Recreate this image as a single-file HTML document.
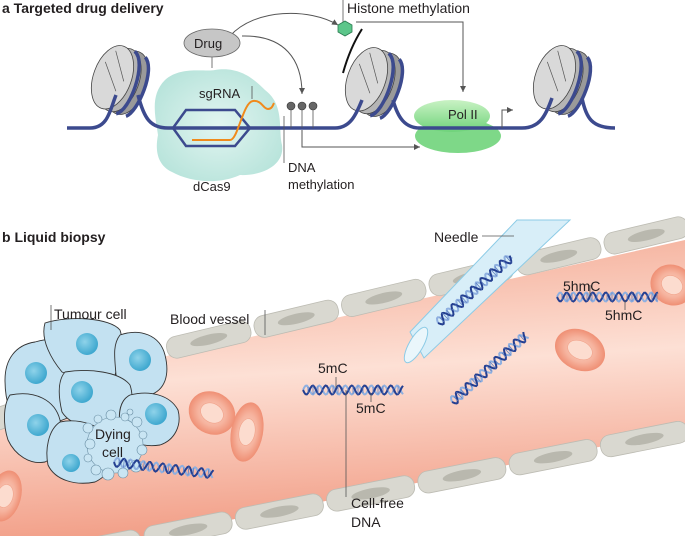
<!DOCTYPE html>
<html><head><meta charset="utf-8"><style>
html,body{margin:0;background:#fff;width:685px;height:536px;overflow:hidden}
svg{display:block;overflow:hidden}
text{font-family:"Liberation Sans",sans-serif;fill:#231f20}
</style></head><body>
<svg id="s" width="685" height="536" viewBox="0 0 685 536" xmlns="http://www.w3.org/2000/svg">
<defs>
<clipPath id="cl"><rect x="0" y="0" width="685" height="536"/></clipPath>
<radialGradient id="cas" cx="50%" cy="50%" r="60%"><stop offset="0" stop-color="#e2f5f1"/><stop offset="1" stop-color="#b6e3da"/></radialGradient>
<linearGradient id="pol" x1="0" y1="0" x2="0" y2="1"><stop offset="0" stop-color="#c9f2c4"/><stop offset="1" stop-color="#6fd37a"/></linearGradient>
<linearGradient id="ves" x1="0" y1="0" x2="0.15" y2="1"><stop offset="0" stop-color="#f3a68f"/><stop offset="0.5" stop-color="#fde0d5"/><stop offset="1" stop-color="#f2a089"/></linearGradient>
<radialGradient id="nuc" cx="40%" cy="40%" r="60%"><stop offset="0" stop-color="#8fd3ea"/><stop offset="1" stop-color="#3fa8cf"/></radialGradient>
<radialGradient id="rbc" cx="50%" cy="50%" r="50%"><stop offset="0" stop-color="#fbd3c4"/><stop offset="0.6" stop-color="#f6b39e"/><stop offset="1" stop-color="#ef8f74"/></radialGradient>
<marker id="ar" markerWidth="8" markerHeight="8" refX="6" refY="3" orient="auto"><path d="M0,0 L6,3 L0,6 z" fill="#555"/></marker>
</defs>
<g clip-path="url(#cl)">
<text x="2" y="13" font-size="14" font-weight="bold">a  Targeted drug delivery</text>

<path d="M165,80 C180,66 205,72 215,70 C240,66 255,80 265,90 C285,105 278,130 282,145 C285,165 262,176 240,175 C218,185 190,182 172,172 C157,165 155,150 158,135 C155,115 150,95 165,80 Z" fill="url(#cas)"/>

<g id="nucs"></g>

<path d="M230,36 C255,8 310,8 338,25" fill="none" stroke="#555" stroke-width="1" marker-end="url(#ar)"/>
<path d="M242,36 C285,35 302,60 302,94" fill="none" stroke="#555" stroke-width="1" marker-end="url(#ar)"/>
<path d="M356,22 H463 V92" fill="none" stroke="#555" stroke-width="1" marker-end="url(#ar)"/>
<path d="M302,130 V147 H420" fill="none" stroke="#555" stroke-width="1" marker-end="url(#ar)"/>

<ellipse cx="458" cy="136" rx="43" ry="17" fill="#7ed888"/>
<ellipse cx="452" cy="116" rx="38" ry="16" fill="url(#pol)"/>

<g stroke="#3c4a8e" stroke-width="3.5" fill="none">
<path d="M67,128 H90 C108,128 110,110 116,95"/>
<path d="M138,95 C144,118 150,128 168,128 H335 C350,128 356,115 362,100"/>
<path d="M393,100 C398,118 405,128 420,128 H522 C540,128 546,115 552,98"/>
<path d="M582,98 C586,118 592,128 615,128"/>
</g>
<path d="M502,128 V110 H513" fill="none" stroke="#555" stroke-width="1" marker-end="url(#ar)"/>
<text x="448" y="119" font-size="13">Pol II</text>

<path d="M173,128 L186,110 H235 L250,128 L235,146 H186 Z" fill="none" stroke="#3c4a8e" stroke-width="2.5"/>
<path d="M192,140 H230 C238,140 243,102 253,101 C262,100 263,109 268,109 C272,109 273,105 274,103" fill="none" stroke="#f08a1c" stroke-width="2"/>
<text x="199" y="98" font-size="13">sgRNA</text>
<line x1="252" y1="86" x2="252" y2="99" stroke="#555" stroke-width="0.8"/>
<text x="193" y="191" font-size="13">dCas9</text>
<line x1="212" y1="57" x2="212" y2="68" stroke="#777" stroke-width="1"/>
<ellipse cx="212" cy="43" rx="28" ry="14" fill="#c6c6c6" stroke="#666" stroke-width="0.8"/>
<text x="194" y="48" font-size="13">Drug</text>

<g stroke="#555" stroke-width="0.8"><line x1="291" y1="106" x2="291" y2="128"/><line x1="302" y1="106" x2="302" y2="128"/><line x1="313" y1="106" x2="313" y2="128"/>
<line x1="284" y1="116" x2="284" y2="163"/></g>
<g fill="#666" stroke="#333" stroke-width="0.6"><circle cx="291" cy="106" r="4"/><circle cx="302" cy="106" r="4"/><circle cx="313" cy="106" r="4"/></g>
<text x="288" y="172" font-size="13">DNA</text>
<text x="288" y="189" font-size="13">methylation</text>

<line x1="343" y1="0" x2="343" y2="24" stroke="#555" stroke-width="0.8"/>
<path d="M362,29 C355,40 348,55 343,73" fill="none" stroke="#111" stroke-width="2"/>
<polygon points="345,21 352,25 352,32 345,36 338,32 338,25" fill="#5cc68a" stroke="#2a7a50" stroke-width="0.8"/>
<text x="347" y="13" font-size="14">Histone methylation</text>

<text x="2" y="242" font-size="14" font-weight="bold">b  Liquid biopsy</text>
<path d="M0,415 C60,395 120,370 170,355 L685,240 L685,430 L280,510 L150,536 L0,536 Z" fill="url(#ves)"/>
<g id="walls"></g>
<g id="rbcs"></g>
<g id="helix"></g>
<g>
<path d="M410,332 L517,220 L570,220 L424,358 Z" fill="#d8eef8" stroke="#8ccbe6" stroke-width="1"/>
<ellipse cx="416" cy="345" rx="7" ry="20" transform="rotate(30 416 345)" fill="#eaf6fb" stroke="#8ccbe6" stroke-width="1"/>
</g>
<g id="helix2"></g>
<g stroke="#333" stroke-width="0.9" fill="#c3e1f1">
<path d="M35,342 C60,335 72,340 85,360 C90,380 90,395 85,410 C65,420 40,430 25,425 C10,420 5,400 5,380 C5,360 15,345 35,342 Z"/>
<path d="M45,323 C70,315 110,318 120,330 C125,345 120,360 115,375 C100,385 80,380 62,372 C52,360 40,340 45,323 Z"/>
<path d="M120,335 C140,328 160,335 165,355 C170,375 165,390 150,395 C135,400 120,392 116,375 C115,360 112,345 120,335 Z"/>
<path d="M10,395 C35,390 55,400 60,420 C65,440 60,455 45,462 C30,465 15,455 8,440 C3,425 3,405 10,395 Z"/>
<path d="M65,372 C90,368 120,372 130,385 C135,400 130,420 115,425 C90,430 70,425 62,412 C58,395 58,380 65,372 Z"/>
<path d="M130,395 C150,390 170,395 178,410 C182,425 175,440 160,445 C140,448 125,440 120,428 C118,412 120,400 130,395 Z"/>
<path d="M60,422 C80,418 100,425 112,440 C118,458 110,475 95,482 C75,486 55,480 48,465 C45,450 48,430 60,422 Z"/>
</g>
<g fill="url(#nuc)">
<circle cx="87" cy="344" r="11"/><circle cx="36" cy="373" r="11"/><circle cx="140" cy="360" r="11"/>
<circle cx="82" cy="392" r="11"/><circle cx="38" cy="425" r="11"/><circle cx="156" cy="414" r="11"/><circle cx="71" cy="463" r="9"/>
</g>
<g fill="#c9e5f3" stroke="#6a8fa5" stroke-width="0.6" id="dying">
<circle cx="115" cy="445" r="28"/>
</g>
<g id="helix3"></g>
<g stroke="#555" stroke-width="0.8" fill="none">
<line x1="51" y1="305" x2="51" y2="330"/>
<line x1="265" y1="310" x2="265" y2="335"/>
<line x1="482" y1="236" x2="514" y2="236"/>
<line x1="590" y1="285" x2="590" y2="297"/>
<line x1="625" y1="300" x2="625" y2="310"/>
<line x1="336" y1="377" x2="336" y2="388"/>
<line x1="371" y1="393" x2="371" y2="402"/>
<line x1="346" y1="390" x2="346" y2="497"/>
</g>
<text x="54" y="319" font-size="14">Tumour cell</text>
<text x="170" y="324" font-size="14">Blood vessel</text>
<text x="434" y="242" font-size="14">Needle</text>
<text x="563" y="291" font-size="14">5hmC</text>
<text x="605" y="320" font-size="14">5hmC</text>
<text x="318" y="373" font-size="14">5mC</text>
<text x="356" y="413" font-size="14">5mC</text>
<text x="95" y="439" font-size="14">Dying</text>
<text x="102" y="457" font-size="14">cell</text>
<text x="351" y="508" font-size="14">Cell-free</text>
<text x="351" y="527" font-size="14">DNA</text>
</g>
</svg>
<script>
var NS="http://www.w3.org/2000/svg";
function el(p,t,a){var e=document.createElementNS(NS,t);for(var k in a)e.setAttribute(k,a[k]);document.getElementById(p).appendChild(e);return e;}
function nuc(cx,cy){
 var g=el("nucs","g",{transform:"translate("+cx+","+cy+") rotate(20)"});
 [[16,"#9a9a9a"],[8,"#b5b5b5"],[0,"#d9d9d9"]].forEach(function(d){
  var e=document.createElementNS(NS,"ellipse");e.setAttribute("cx",d[0]-8);e.setAttribute("cy",0);e.setAttribute("rx",19);e.setAttribute("ry",33);
  e.setAttribute("fill",d[1]);e.setAttribute("stroke","#444");e.setAttribute("stroke-width","0.8");g.appendChild(e);});
 var l=document.createElementNS(NS,"path");l.setAttribute("d","M-20,-12 L0,12 M-14,-26 L4,0");l.setAttribute("stroke","#555");l.setAttribute("stroke-width","0.7");g.appendChild(l);
 var w=document.createElementNS(NS,"path");w.setAttribute("d","M4,-32 C20,-26 20,26 8,33 M16,-30 C30,-22 28,24 18,32");w.setAttribute("stroke","#3c4a8e");w.setAttribute("stroke-width","3.5");w.setAttribute("fill","none");g.appendChild(w);
}
nuc(120,80);nuc(374,82);nuc(562,80);
function wall(x0,y0,x1,y1,n){
 var ang=Math.atan2(y1-y0,x1-x0)*180/Math.PI;
 for(var i=0;i<n;i++){var t=(i+0.5)/n;var x=x0+(x1-x0)*t,y=y0+(y1-y0)*t;
  var L=Math.hypot(x1-x0,y1-y0)/n-4;
  var g=el("walls","g",{transform:"translate("+x+","+y+") rotate("+ang+")"});
  var r=document.createElementNS(NS,"rect");r.setAttribute("x",-L/2);r.setAttribute("y",-11);r.setAttribute("width",L);r.setAttribute("height",22);r.setAttribute("rx",10);r.setAttribute("fill","#d9d8d0");r.setAttribute("stroke","#bdbcb3");r.setAttribute("stroke-width","0.8");g.appendChild(r);
  var o=document.createElementNS(NS,"ellipse");o.setAttribute("rx",L*0.22);o.setAttribute("ry",5);o.setAttribute("fill","#b9b8ae");g.appendChild(o);}
}
wall(-20,425,165,362,2);
wall(165,350,690,225,6);
wall(-40,575,690,430,8);
function rbc(cx,cy,rx,ry,rot){var g=el("rbcs","g",{transform:"translate("+cx+","+cy+") rotate("+rot+")"});
 var a=document.createElementNS(NS,"ellipse");a.setAttribute("rx",rx);a.setAttribute("ry",ry);a.setAttribute("fill","url(#rbc)");g.appendChild(a);
 var b=document.createElementNS(NS,"ellipse");b.setAttribute("rx",rx*0.5);b.setAttribute("ry",ry*0.45);b.setAttribute("fill","#fcdccf");b.setAttribute("stroke","#f1a48c");b.setAttribute("stroke-width","0.6");g.appendChild(b);}
rbc(247,432,16,30,10);rbc(212,413,24,21,30);rbc(580,350,26,20,25);rbc(672,285,22,20,30);rbc(5,496,16,26,15);
function helix(p,x0,y0,x1,y1){var dx=x1-x0,dy=y1-y0,L=Math.hypot(dx,dy),nx=-dy/L,ny=dx/L;
 [["#8fb0e0",Math.PI],["#243f91",0]].forEach(function(c){var d="";
  for(var i=0;i<=80;i++){var t=i/80,s=Math.sin(t*L/13*2*Math.PI+c[1])*4.5;d+=(i?"L":"M")+(x0+dx*t+nx*s).toFixed(1)+","+(y0+dy*t+ny*s).toFixed(1);}
  el(p,"path",{d:d,fill:"none",stroke:c[0],"stroke-width":"2"});
  for(var i=0;i<L/5;i++){var t=i*5/L;var s=Math.sin(t*L/13*2*Math.PI)*4.5;var x=x0+dx*t,y=y0+dy*t;
   if(c[1]==0)el(p,"line",{x1:x+nx*s,y1:y+ny*s,x2:x-nx*s,y2:y-ny*s,stroke:"#5f7fc0","stroke-width":"0.8"});}
 });}
helix("helix",303,390,403,390);
helix("helix",557,297,658,297);
helix("helix",452,402,526,335);
helix("helix2",438,323,511,257);
helix("helix3",114,462,213,474);
var bs=[[88,428,5],[90,444,5],[88,458,4],[96,470,5],[108,474,6],[123,473,5],[136,466,6],[142,450,5],[143,435,4],[137,422,5],[125,417,4],[111,415,5],[98,419,4],[130,412,3]];
bs.forEach(function(b){el("dying","circle",{cx:b[0],cy:b[1],r:b[2]});});
</script>
</body></html>
